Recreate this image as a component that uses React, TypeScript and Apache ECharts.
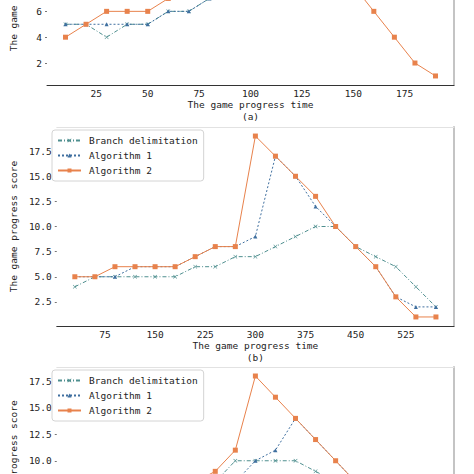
import React, { useEffect, useRef } from "react";
import * as echarts from "echarts";

// ---- data ----
const xA = [10, 20, 30, 40, 50, 60, 70, 80, 90, 100, 110, 120, 130, 140, 150, 160, 170, 180, 190];
const xB = [30, 60, 90, 120, 150, 180, 210, 240, 270, 300, 330, 360, 390, 420, 450, 480, 510, 540, 570];
const xC = [30, 60, 90, 120, 150, 180, 210, 240, 270, 300, 330, 360, 390, 420, 450, 480, 510, 540, 570];

const aBranch = [5, 5, 4, 5, 5, 6, 6, 7, 8, 9, 10, 11, 12, 12, 11, 10, 9, 8, 8];
const aAlg1 = [5, 5, 5, 5, 5, 6, 6, 7, 9, 12, 14, 13, 12, 11, 10, 9, 9, 8, 8];
const aAlg2 = [4, 5, 6, 6, 6, 7, 8, 9, 10, 15, 14, 12, 11, 10, 8, 6, 4, 2, 1];

const bBranch = [4, 5, 5, 5, 5, 5, 6, 6, 7, 7, 8, 9, 10, 10, 8, 7, 6, 4, 2];
const bAlg1 = [5, 5, 5, 6, 6, 6, 7, 8, 8, 9, 17, 15, 12, 10, 8, 6, 3, 2, 2];
const bAlg2 = [5, 5, 6, 6, 6, 6, 7, 8, 8, 19, 17, 15, 13, 10, 8, 6, 3, 1, 1];

const cBranch = [3, 4, 4, 5, 5, 6, 6, 8, 10, 10, 10, 10, 9, 8, 7, 6, 5, 3, 2];
const cAlg1 = [4, 4, 5, 5, 6, 6, 7, 7, 8, 10, 11, 14, 12, 10, 8, 6, 4, 3, 2];
const cAlg2 = [4, 5, 5, 6, 6, 7, 8, 9, 11, 18, 16, 14, 12, 10, 8, 6, 4, 2, 1];

const xTicksA = [25, 50, 75, 100, 125, 150, 175];
const xTicksB = [75, 150, 225, 300, 375, 450, 525];
const yTicksA = [2, 4, 6, 8, 10, 12, 14];
const yTicksBC = [2.5, 5, 7.5, 10, 12.5, 15, 17.5];

const seriesNames = ["Branch delimitation", "Algorithm 1", "Algorithm 2"];
const panelLabels = ["(a)", "(b)", "(c)"];
const xTitle = "The game progress time";
const yTitle = "The game progress score";

// ---- styles ----
const FONT = "'DejaVu Sans Mono', monospace";
const FS = 9.5;
const OFFSET = 130;
const colors = ["#4f8f8f", "#3f6f9f", "#e8824c"];
const dashes: any[] = [[4, 2, 1, 2], [2, 2], "solid"];
const symbols = [
  "path://M0,1L1,0L5,4L9,0L10,1L6,5L10,9L9,10L5,6L1,10L0,9L4,5Z",
  "triangle",
  "rect",
];
const symbolSizes = [4, 4, 5];

const panels = [
  { x: xA, ys: [aBranch, aAlg1, aAlg2], xMin: 1, xMax: 199, yMin: 0.3, yMax: 15.7, xTicks: xTicksA, yTicks: yTicksA, dec: 0, top: -114 },
  { x: xB, ys: [bBranch, bAlg1, bAlg2], xMin: 3, xMax: 597, yMin: 0.1, yMax: 19.9, xTicks: xTicksB, yTicks: yTicksBC, dec: 1, top: 127 },
  { x: xC, ys: [cBranch, cAlg1, cAlg2], xMin: 3, xMax: 597, yMin: 0.15, yMax: 18.85, xTicks: xTicksB, yTicks: yTicksBC, dec: 1, top: 367 },
];

export default function App() {
  const ref = useRef<HTMLDivElement>(null);
  useEffect(() => {
    if (!ref.current) return;
    const chart = echarts.init(ref.current, undefined, { renderer: "svg" });
    const textBase = { fontFamily: FONT, fontSize: FS, color: "#222" };
    const grid: any[] = [];
    const xAxis: any[] = [];
    const yAxis: any[] = [];
    const legend: any[] = [];
    const series: any[] = [];
    panels.forEach((p, i) => {
      grid.push({ left: 47, top: p.top + OFFSET, width: 407, height: 199 });
      xAxis.push({
        type: "value", gridIndex: i, position: "bottom", min: p.xMin, max: p.xMax,
        axisLine: { show: true, onZero: false, lineStyle: { color: "#333", width: 1 } },
        axisTick: { show: false },
        axisLabel: { customValues: p.xTicks, margin: 3, ...textBase },
        splitLine: { show: false },
        name: xTitle + "\n" + panelLabels[i], nameLocation: "middle", nameGap: 12,
        nameTextStyle: { ...textBase, lineHeight: 12, align: "center" },
      });
      xAxis.push({
        type: "value", gridIndex: i, position: "top", min: p.xMin, max: p.xMax,
        axisLine: { show: true, onZero: false, lineStyle: { color: "#e2e2e2", width: 1 } },
        axisTick: { show: false }, axisLabel: { show: false }, splitLine: { show: false },
      });
      yAxis.push({
        type: "value", gridIndex: i, position: "left", min: p.yMin, max: p.yMax,
        axisLine: { show: false },
        axisTick: { show: true, customValues: p.yTicks, length: 2, lineStyle: { color: "#777" } },
        axisLabel: { customValues: p.yTicks, margin: 5, formatter: (v: number) => v.toFixed(p.dec), ...textBase },
        splitLine: { show: false },
        name: yTitle, nameLocation: "middle", nameGap: 29, nameTextStyle: { ...textBase },
      });
      yAxis.push({
        type: "value", gridIndex: i, position: "right", min: p.yMin, max: p.yMax,
        axisLine: { show: true, lineStyle: { color: "#c4c4c4", width: 2 } },
        axisTick: { show: false }, axisLabel: { show: false }, splitLine: { show: false },
      });
      legend.push({
        orient: "vertical", left: 52, top: p.top + OFFSET + 3, data: seriesNames,
        itemWidth: 23, itemHeight: 5, itemGap: 4, padding: [5, 6, 5, 5],
        borderColor: "#d4d4d4", borderWidth: 1, borderRadius: 3, backgroundColor: "#fff",
        textStyle: { ...textBase, padding: [0, 0, 0, 3], lineHeight: 11 },
      });
      for (let k = 0; k < 3; k++) {
        series.push({
          type: "line", name: seriesNames[k], xAxisIndex: i * 2, yAxisIndex: i * 2,
          data: p.x.map((xv, j) => [xv, p.ys[k][j]]),
          symbol: symbols[k], symbolSize: symbolSizes[k], showSymbol: true,
          lineStyle: { color: colors[k], width: 1, type: dashes[k] },
          itemStyle: { color: colors[k] },
          z: 2 + k,
        });
      }
    });
    chart.setOption({ animation: false, backgroundColor: "#fff", grid, xAxis, yAxis, legend, series });
    return () => chart.dispose();
  }, []);
  return (
    <div style={{ position: "fixed", left: 0, top: 0, width: 474, height: 474, overflow: "hidden", background: "#fff" }}>
      <div ref={ref} style={{ position: "absolute", left: 0, top: -OFFSET, width: 474, height: 474 + 2 * OFFSET }} />
    </div>
  );
}
